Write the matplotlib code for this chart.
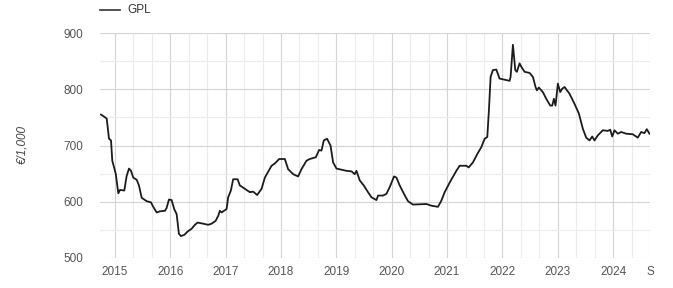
import matplotlib
matplotlib.use("Agg")
import matplotlib.pyplot as plt
from matplotlib.ticker import MultipleLocator, FixedLocator
import numpy as np

plt.rcParams['font.family'] = ['Liberation Sans', 'DejaVu Sans']

# decimal years and GPL price (€/1,000)
t_years = [2014.747, 2014.819, 2014.850, 2014.892, 2014.928, 2014.951, 2015.013, 2015.060, 2015.090, 2015.168,
           2015.211, 2015.253, 2015.289, 2015.330, 2015.392, 2015.433, 2015.482, 2015.572, 2015.650, 2015.691,
           2015.753, 2015.812, 2015.903, 2015.933, 2015.975, 2016.023, 2016.070, 2016.114, 2016.155, 2016.191,
           2016.251, 2016.312, 2016.384, 2016.444, 2016.493, 2016.594, 2016.684, 2016.745, 2016.818, 2016.865,
           2016.895, 2016.926, 2016.986, 2017.016, 2017.045, 2017.094, 2017.135, 2017.215, 2017.256, 2017.347,
           2017.437, 2017.496, 2017.569, 2017.648, 2017.708, 2017.829, 2017.888, 2017.966, 2018.069, 2018.128,
           2018.219, 2018.309, 2018.370, 2018.460, 2018.520, 2018.628, 2018.688, 2018.731, 2018.773, 2018.832,
           2018.894, 2018.941, 2019.002, 2019.092, 2019.182, 2019.273, 2019.332, 2019.363, 2019.422, 2019.495,
           2019.572, 2019.634, 2019.724, 2019.753, 2019.843, 2019.904, 2019.964, 2020.042, 2020.085, 2020.144,
           2020.222, 2020.294, 2020.384, 2020.626, 2020.717, 2020.836, 2020.897, 2020.957, 2021.047, 2021.168,
           2021.227, 2021.348, 2021.390, 2021.468, 2021.547, 2021.619, 2021.679, 2021.727, 2021.756, 2021.787,
           2021.828, 2021.890, 2021.949, 2022.040, 2022.130, 2022.148, 2022.190, 2022.233, 2022.262, 2022.310,
           2022.341, 2022.401, 2022.491, 2022.551, 2022.599, 2022.623, 2022.659, 2022.731, 2022.792, 2022.865,
           2022.901, 2022.930, 2022.960, 2023.002, 2023.045, 2023.081, 2023.123, 2023.213, 2023.303, 2023.381,
           2023.453, 2023.514, 2023.574, 2023.623, 2023.664, 2023.724, 2023.814, 2023.904, 2023.948, 2023.984,
           2024.025, 2024.085, 2024.146, 2024.236, 2024.356, 2024.446, 2024.507, 2024.567, 2024.609, 2024.657]
gpl = [755, 750, 748, 712, 709, 673, 650, 615, 621, 620,
       646, 659, 655, 643, 639, 629, 607, 601, 599, 591,
       581, 583, 584, 589, 604, 603, 587, 578, 543, 539,
       541, 547, 552, 559, 563, 561, 559, 561, 566, 575,
       584, 581, 585, 587, 608, 620, 640, 640, 629, 623,
       617, 618, 612, 623, 643, 664, 668, 676, 676, 658,
       649, 645, 658, 673, 676, 679, 692, 691, 709, 712,
       700, 670, 659, 657, 655, 654, 649, 655, 638, 629,
       617, 608, 603, 611, 611, 614, 626, 645, 643, 629,
       614, 601, 595, 596, 593, 591, 602, 617, 634, 655,
       664, 664, 661, 670, 685, 697, 712, 715, 762, 822,
       834, 835, 819, 817, 815, 822, 879, 834, 831, 846,
       840, 831, 829, 822, 804, 798, 803, 795, 783, 771,
       771, 783, 771, 810, 795, 801, 804, 792, 774, 757,
       730, 714, 709, 716, 709, 718, 727, 726, 728, 716,
       727, 721, 724, 721, 720, 714, 724, 722, 729, 721]

tick_pos = [2015, 2016, 2017, 2018, 2019, 2020, 2021, 2022, 2023, 2024, 2024.665]
tick_labels = ['2015', '2016', '2017', '2018', '2019', '2020', '2021', '2022', '2023', '2024', 'S']
series_name = 'GPL'
y_label = '€/1,000'

fig = plt.figure(figsize=(6.73, 2.88), dpi=100)
ax = fig.add_axes([100/673, 1-258/288, 550/673, 225/288])

ax.plot(t_years, gpl, color='#1c1c1c', lw=1.3, solid_joinstyle='round', label=series_name, zorder=3)

ax.set_xlim(2014.729, 2024.667)
ax.set_ylim(500, 900)
ax.xaxis.set_major_locator(FixedLocator(tick_pos))
ax.set_xticklabels(tick_labels)
minor_x = [y + f for y in range(2014, 2025) for f in (1/3, 2/3)]
ax.xaxis.set_minor_locator(FixedLocator(minor_x))
ax.yaxis.set_major_locator(MultipleLocator(100))
ax.yaxis.set_minor_locator(MultipleLocator(50))

ax.grid(which='major', color='#d4d4d4', lw=0.8)
ax.grid(which='minor', color='#ececec', lw=0.8)
for s in ax.spines.values():
    s.set_visible(False)
ax.tick_params(which='both', length=0)
ax.tick_params(axis='y', pad=12, labelsize=8.5, labelcolor='#555555')
ax.tick_params(axis='x', pad=6, labelsize=8.5, labelcolor='#555555')

fig.text(22/673, 1-145/288, y_label, rotation=90, ha='center', va='center',
         fontsize=8.5, color='#444444', style='italic')

# legend
fig.lines.append(plt.Line2D([100/673, 120/673], [1-10/288, 1-10/288], color='#444444', lw=1.3,
                            transform=fig.transFigure))
fig.text(127/673, 1-10/288, series_name, ha='left', va='center', fontsize=8.5, color='#333333')

fig.savefig('out.png', dpi=100)
